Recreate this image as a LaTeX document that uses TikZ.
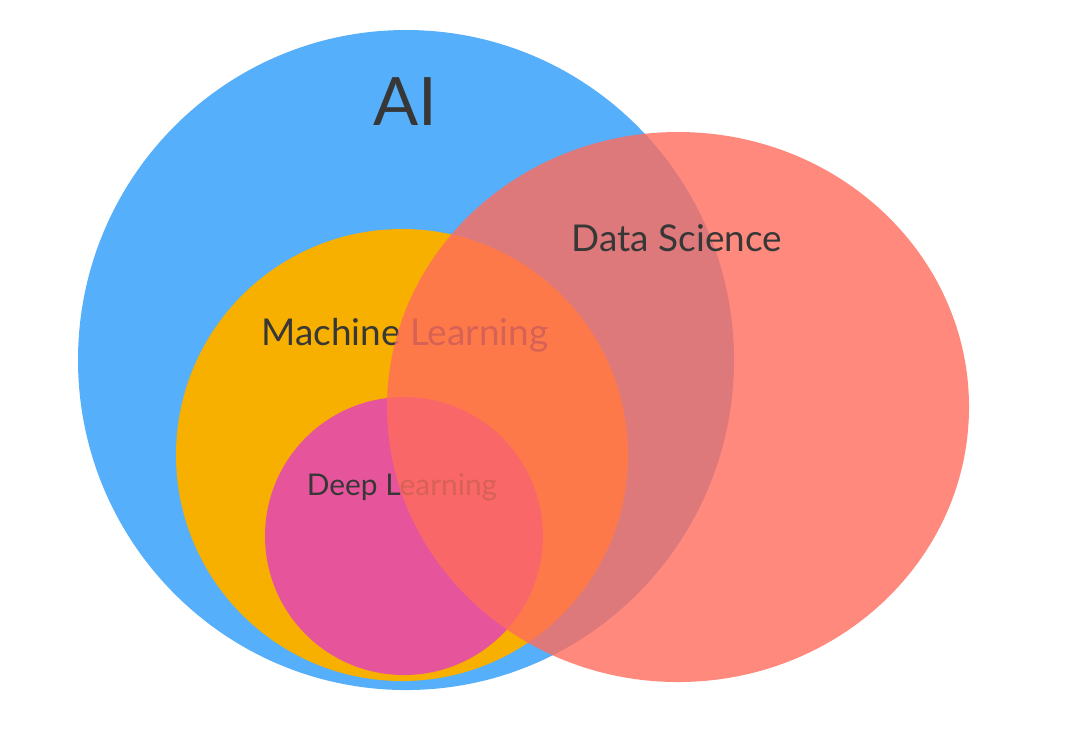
\documentclass[tikz,border=0pt]{standalone}
\usepackage{fontspec}
\setmainfont{Lato}
\usepackage{xcolor}
\usetikzlibrary{positioning}

\definecolor{aiblue}{RGB}{85,175,250}
\definecolor{mlorange}{RGB}{247,176,0}
\definecolor{dlpink}{RGB}{230,85,155}
\definecolor{dsred}{RGB}{255,108,92}
\definecolor{labelgray}{RGB}{55,55,55}

\begin{document}
\begin{tikzpicture}[x=0.01cm, y=-0.01cm]

\tikzset{lbl/.style={text=labelgray, inner sep=0pt}}

\useasboundingbox (0,0) rectangle (1068,729);

\fill[aiblue] (406,360) ellipse [x radius=328, y radius=330];
\fill[mlorange] (402,455) circle [radius=226];
\fill[dlpink] (404,536) circle [radius=139];

\node[lbl, font=\fontsize{19}{22}\selectfont] (ai) at (405,102) {AI};
\node[lbl, font=\fontsize{10.5}{12}\selectfont] (ml) at (405,335) {Machine Learning};
\node[lbl, font=\fontsize{8.5}{10}\selectfont] (dl) at (402,487) {Deep Learning};

\fill[dsred, opacity=0.8] (678,407) ellipse [x radius=291, y radius=275];

\node[lbl, font=\fontsize{10.5}{12}\selectfont] (ds) at (677,238) {Data Science};

\end{tikzpicture}
\end{document}
